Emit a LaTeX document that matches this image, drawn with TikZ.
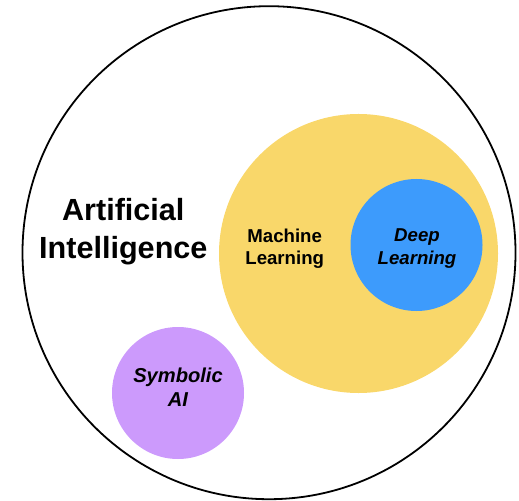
\documentclass[tikz,border=0pt]{standalone}
\usepackage{fontspec}
\setmainfont{Liberation Sans}
\definecolor{mlyellow}{HTML}{F9D76A}
\definecolor{dlblue}{HTML}{3D9BFC}
\definecolor{aipurple}{HTML}{CC9AFC}
\tikzset{
  field/.style={circle,inner sep=0pt,minimum size=#1},
  label/.style={align=center,inner sep=0pt,font=\bfseries}
}
\begin{document}
\begin{tikzpicture}[x=1bp,y=-1bp]
        \useasboundingbox (0,0) rectangle (519,501);
        %% Fields
        \node[field=493bp,draw=black,line width=1.8bp] (ai) at (269,252.7) {};
        \node[field=279bp,fill=mlyellow] (ml) at (358.5,253.5) {};
        \node[field=132bp,fill=dlblue] (dl) at (416.5,245) {};
        \node[field=132bp,fill=aipurple] (sym) at (178,393) {};
        %% Labels
        \node[label,font=\fontsize{30.7}{38}\bfseries\selectfont] (ailabel) at (123.3,231.5) {Artificial\\Intelligence};
        \node[label,font=\fontsize{18.7}{22.6}\bfseries\selectfont] (mllabel) at (284.7,248.5) {Machine\\Learning};
        \node[label,font=\fontsize{18.7}{22.6}\bfseries\itshape\selectfont] (dllabel) at (417,248.5) {Deep\\Learning};
        \node[label,font=\fontsize{20.2}{24}\bfseries\itshape\selectfont] (symlabel) at (178,387.5) {Symbolic\\AI};
    \end{tikzpicture}
\end{document}
